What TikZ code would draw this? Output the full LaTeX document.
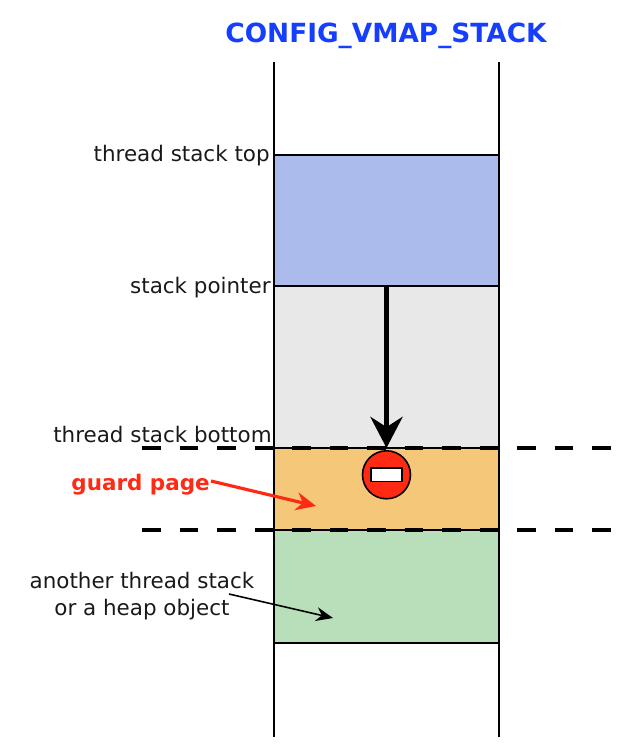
\documentclass[tikz,border=0pt]{standalone}
\usepackage{fontspec}
\setmainfont{DejaVu Sans}
\usetikzlibrary{arrows.meta, positioning}
\definecolor{titleblue}{RGB}{22,62,255}
\definecolor{guardred}{RGB}{255,42,20}
\definecolor{topblue}{RGB}{171,187,235}
\definecolor{guardorange}{RGB}{245,199,120}
\definecolor{othergreen}{RGB}{184,223,185}
\tikzset{
  region/.style={draw, line width=0.9pt, fill=#1, minimum width=4.5cm, inner sep=0pt, outer sep=0pt},
  lbl/.style={text=black!90, font=\fontsize{12.2}{15}\selectfont, inner sep=0pt},
  rail/.style={line width=1.1pt},
  limit/.style={line width=2.2pt, dash pattern=on 0.37cm off 0.38cm},
  arr/.style={-{Stealth[length=3.4mm, width=2.8mm]}, line width=0.9pt},
}
\begin{document}
\begin{tikzpicture}[node distance=0cm]
    \useasboundingbox (0,0) rectangle (12.5,-15);
    \node[region=topblue, minimum height=2.62cm] (top) at (7.73,-4.41) {};
    \node[region=black!9, minimum height=3.24cm, below=of top] (free) {};
    \node[region=guardorange, minimum height=1.64cm, below=of free] (guard) {};
    \node[region=othergreen, minimum height=2.26cm, below=of guard] (other) {};
    % rails
    \coordinate (railLtop) at (5.48,-1.24);
    \coordinate (railLbot) at (5.48,-14.74);
    \coordinate (railRtop) at (9.98,-1.24);
    \coordinate (railRbot) at (9.98,-14.74);
    \draw[rail] (railLtop) -- (railLbot);
    \draw[rail] (railRtop) -- (railRbot);
    % labels
    \node[font=\fontsize{15}{18}\selectfont\bfseries, text=titleblue] (title) at (7.72,-0.72) {CONFIG\_VMAP\_STACK};
    \node[lbl, anchor=base east] (ltop) at (5.4,-3.22) {thread stack top};
    \node[lbl, anchor=base east] (lsp) at (5.42,-5.86) {stack pointer};
    \node[lbl, anchor=base east] (lbot) at (5.44,-8.84) {thread stack bottom};
    \node[lbl, font=\fontsize{12.2}{15}\selectfont\bfseries, text=guardred, anchor=base east] (lguard) at (4.2,-9.8) {guard page};
    \node[lbl, align=center] (lother) at (2.84,-11.92) {another thread stack\\or a heap object};
    % page limits
    \coordinate (limA) at (2.84,-8.96);
    \coordinate (limB) at (12.24,-8.96);
    \coordinate (limC) at (2.84,-10.6);
    \coordinate (limD) at (12.24,-10.6);
    \draw[limit] (limA) -- (limB);
    \draw[limit] (limC) -- (limD);
    % stop sign
    \node[circle, draw, line width=0.9pt, fill=guardred, minimum size=0.96cm, inner sep=0pt, below=0.04cm of free.south] (stop) {};
    \node[draw, line width=0.9pt, fill=white, minimum width=0.62cm, minimum height=0.27cm, inner sep=0pt] (bar) at (stop) {};
    % arrows
    \draw[-{Stealth[length=0.62cm, width=0.64cm]}, line width=3.4pt] (top.south) -- (free.south);
    \coordinate (gstart) at (4.22,-9.62);
    \coordinate (gend) at (6.32,-10.12);
    \draw[-{Stealth[length=0.4cm, width=0.36cm]}, guardred, line width=1.8pt] (gstart) -- (gend);
    \coordinate (ostart) at (4.58,-11.88);
    \coordinate (oend) at (6.66,-12.36);
    \draw[arr] (ostart) -- (oend);
\end{tikzpicture}
\end{document}
